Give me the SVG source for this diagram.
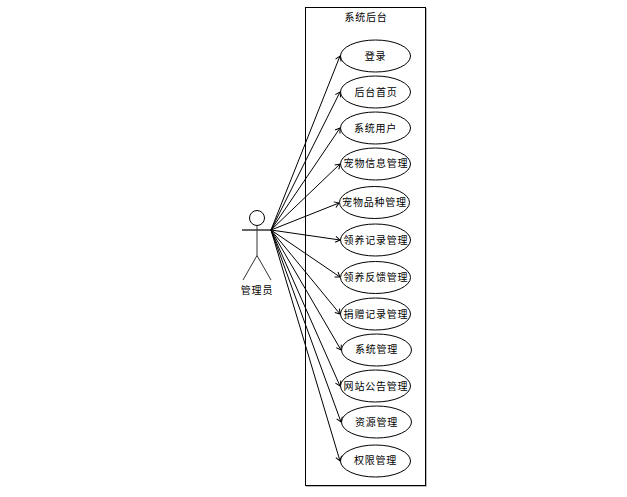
<svg xmlns="http://www.w3.org/2000/svg" width="627" height="497" viewBox="0 0 627 497">
<style>
text{font-family:"Noto Sans CJK SC","Liberation Sans",sans-serif;font-size:10px;letter-spacing:.8px;text-anchor:middle;fill:#000}
ellipse{fill:#fff;stroke:#000;stroke-width:1}
.c{fill:none;stroke:#000;stroke-width:1}
.a{fill:none;stroke:#333;stroke-width:1}
.b{fill:none;stroke:#666;stroke-width:2}
</style>
<defs><marker id="arr" markerUnits="userSpaceOnUse" markerWidth="8" markerHeight="8" refX="6" refY="4" orient="auto"><path d="M1.500 1L6 4L1.500 7" fill="none" stroke="#000" stroke-width="1"/></marker></defs>
<rect width="627" height="497" fill="#fff"/>
<g id="system">
<rect x="306.500" y="8.500" width="120" height="478" fill="none" stroke="#bbb"/>
<rect x="305.500" y="7.500" width="120" height="478" fill="#fff" stroke="#000"/>
<text x="366" y="21">系统后台</text>
</g>
<g id="actor">
<circle cx="257" cy="218" r="7.500" fill="#fff" stroke="#000"/>
<path class="b" d="M242 230H271"/>
<path class="a" d="M257 225.500V255.500M257 255.500L243 280M257 255.500L271 280"/>
<text x="257" y="294">管理员</text>
</g>
<g id="connectors">
<line class="c" marker-end="url(#arr)" x1="271" y1="230" x2="340" y2="56"/>
<line class="c" marker-end="url(#arr)" x1="271" y1="230" x2="340" y2="92"/>
<line class="c" marker-end="url(#arr)" x1="271" y1="230" x2="340" y2="128"/>
<line class="c" marker-end="url(#arr)" x1="271" y1="230" x2="340" y2="164"/>
<line class="c" marker-end="url(#arr)" x1="271" y1="230" x2="339" y2="203"/>
<line class="c" marker-end="url(#arr)" x1="271" y1="230" x2="340" y2="240"/>
<line class="c" marker-end="url(#arr)" x1="271" y1="230" x2="340" y2="277"/>
<line class="c" marker-end="url(#arr)" x1="271" y1="230" x2="340" y2="314"/>
<line class="c" marker-end="url(#arr)" x1="271" y1="230" x2="341" y2="350"/>
<line class="c" marker-end="url(#arr)" x1="271" y1="230" x2="340" y2="386"/>
<line class="c" marker-end="url(#arr)" x1="271" y1="230" x2="341" y2="422"/>
<line class="c" marker-end="url(#arr)" x1="271" y1="230" x2="340" y2="461"/>
</g>
<g id="uc1"><ellipse cx="375.500" cy="56" rx="35" ry="16"/><text x="375.500" y="59.500">登录</text></g>
<g id="uc2"><ellipse cx="375.500" cy="92" rx="35" ry="16"/><text x="376" y="95.500">后台首页</text></g>
<g id="uc3"><ellipse cx="375.500" cy="128" rx="35" ry="16"/><text x="375.500" y="131.500">系统用户</text></g>
<g id="uc4"><ellipse cx="375.500" cy="164" rx="35" ry="16"/><text x="376" y="167">宠物信息管理</text></g>
<g id="uc5"><ellipse cx="374.500" cy="202.500" rx="35" ry="16"/><text x="374.500" y="206">宠物品种管理</text></g>
<g id="uc6"><ellipse cx="375.500" cy="240" rx="35" ry="16"/><text x="376" y="243.500">领养记录管理</text></g>
<g id="uc7"><ellipse cx="375.500" cy="277.500" rx="35" ry="16"/><text x="376" y="281">领养反馈管理</text></g>
<g id="uc8"><ellipse cx="375.500" cy="314" rx="35" ry="16"/><text x="376" y="317.500">捐赠记录管理</text></g>
<g id="uc9"><ellipse cx="376.500" cy="350" rx="35" ry="16"/><text x="376.500" y="353">系统管理</text></g>
<g id="uc10"><ellipse cx="375.500" cy="386" rx="35" ry="16"/><text x="376" y="390">网站公告管理</text></g>
<g id="uc11"><ellipse cx="376.500" cy="422" rx="35" ry="16"/><text x="376.500" y="425.500">资源管理</text></g>
<g id="uc12"><ellipse cx="375.500" cy="461" rx="35" ry="16"/><text x="375.500" y="464">权限管理</text></g>
</svg>
